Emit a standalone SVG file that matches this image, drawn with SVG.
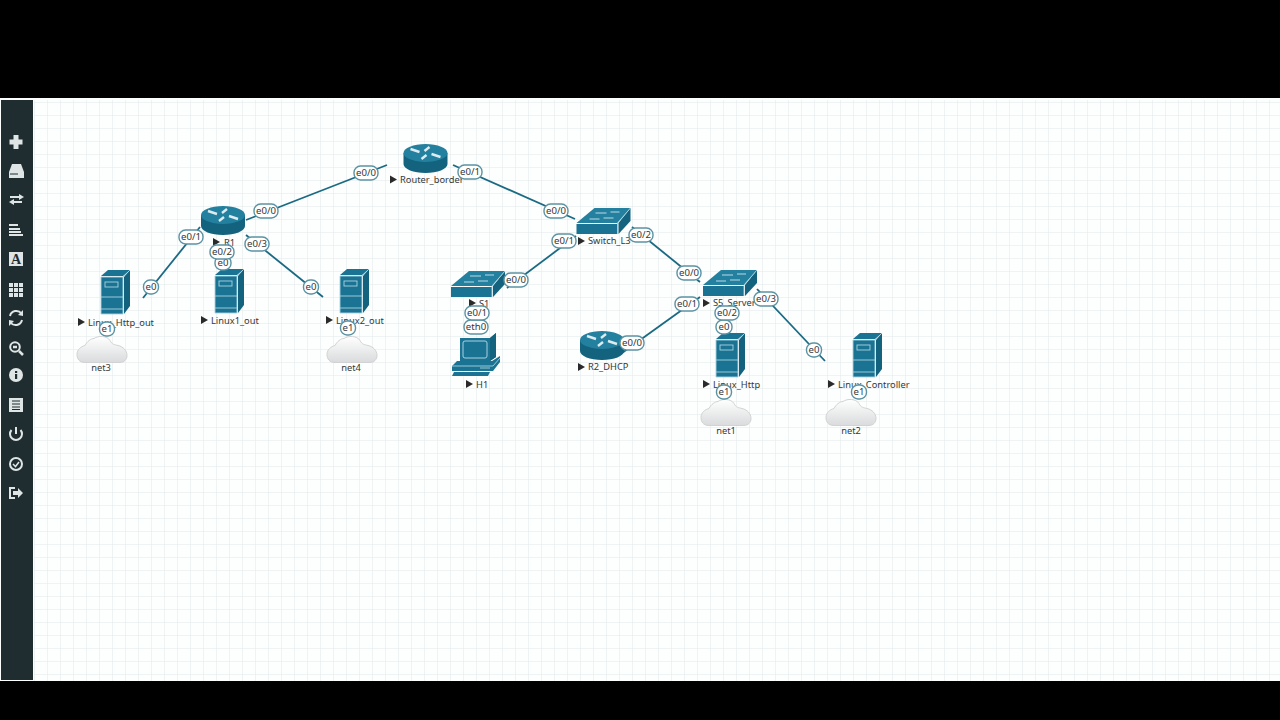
<svg xmlns="http://www.w3.org/2000/svg" width="1280" height="720" viewBox="0 0 1280 720">
<style>
text{font-family:"Noto Sans","DejaVu Sans",sans-serif;font-size:9.3px;fill:#33383a}
.c{text-anchor:middle}
.f{fill:#1b7394}
.d{fill:#13627e}
.e{stroke:#a9d3e0;stroke-width:.9;fill:none}
.link{stroke:#1a6a84;stroke-width:1.8;fill:none}
.pill rect{fill:#fff;stroke:#5b93a3;stroke-width:1.4}
.pill text{text-anchor:middle;font-size:9.6px}
.tool{fill:#dfe4e4}
.toolS{stroke:#dfe4e4;fill:none}
</style>
<defs>
<pattern id="grid" width="13" height="13" patternUnits="userSpaceOnUse" x="34" y="102">
<path d="M13 0H0V13" fill="none" stroke="#e2e7e8" stroke-width="1"/>
</pattern>
<linearGradient id="cl" x1="0" y1="0" x2="0" y2="1"><stop offset="0" stop-color="#ffffff"/><stop offset="1" stop-color="#d9dbdc"/></linearGradient>
<polygon id="tri" points="0,0 7,4 0,8" fill="#2a2a2a"/>
<g id="router">
<path class="d" d="M0 9V20C0 25 10 29 22 29S44 25 44 20V9Z"/>
<ellipse cx="22" cy="9" rx="22" ry="9" fill="#24809f"/>
<path d="M7 5L16 8M37 13L28 10M26 3L21 7M18 15L23 11" stroke="#dcecf1" stroke-width="2.4" fill="none"/>
</g>
<g id="switch">
<polygon fill="#24809f" points="0,16 18,1 54,1 41,16"/>
<polygon class="f" points="0,17 41,17 41,27 0,27"/>
<polygon class="d" points="42,16 54,1 54,14 42,27"/>
<path d="M41 16L54 1M41 16V27" class="e"/>
<path d="M19 6H30M34 5H43M13 12H23M27 11H37" stroke="#b9dbe6" stroke-width="1" fill="none"/>
</g>
<g id="server">
<polygon class="f" points="1,7 23,7 23,44 1,44"/>
<polygon class="d" points="24,7 30,0 30,36 24,44"/>
<polygon class="f" points="1,6 8,0 30,0 23,6"/>
<path d="M1 7H23V44H1ZM23 7L30 0" class="e"/>
<path d="M1 27H23M1 39H23" class="e"/>
<rect x="5" y="12" width="13" height="5" class="e"/>
</g>
<g id="pc">
<polygon class="f" points="8,5 38,5 44,0 44,24 38,28 8,28"/>
<polygon class="d" points="38,5 44,0 44,24 38,28"/>
<rect x="11" y="8" width="24" height="17" rx="2" fill="#1b7394" stroke="#a9d3e0"/>
<polygon class="f" points="5,28 40,28 48,23 48,29 41,38 0,38 0,33"/>
<path d="M0 33H41L48 25M28 35H38" stroke="#a9d3e0" stroke-width=".9" fill="none"/>
<polygon class="f" points="2,39 38,39 36,43 0,43"/>
</g>
<g id="cloud">
<path d="M8 27C2 27 0 23 0 19C0 14 4 11 8 10C10 6 14 3 17 3C21 0 30 0 33 5C35 9 37 9 41 10C46 11 50 15 50 20C50 24 47 27 43 27Z" fill="url(#cl)" stroke="#d0d2d3" stroke-width="1"/>
</g>
</defs>

<rect width="1280" height="720" fill="#000"/>
<rect x="0" y="98" width="1280" height="583" fill="#fdfefe"/>
<rect x="34" y="100" width="1246" height="581" fill="url(#grid)"/>

<g id="sidebar">
<rect x="1" y="100" width="32" height="580" fill="#1f2d31"/>
<path class="tool" d="M13.500 135H18.500V139.500H22.500V144.500H18.500V149H13.500V144.500H9.500V139.500H13.500Z"/>
<path class="tool" d="M12 164H21L24 172V178H9V172Z"/>
<path d="M10 174H18" stroke="#1f2d31"/>
<path class="toolS" stroke-width="1.800" d="M10 197H20M22 202H12"/>
<polygon class="tool" points="19,194 24,197 19,200"/>
<polygon class="tool" points="14,199 9,202 14,205"/>
<path class="toolS" stroke-width="2" d="M9 225H18M9 229H20M9 232H21M9 235H23"/>
<rect x="9" y="252" width="14" height="14" class="tool"/>
<text x="16" y="264" class="c" style="font-family:'Liberation Serif',serif;font-size:14px;font-weight:700;fill:#1f2d31">A</text>
<path class="tool" d="M9 283H13V287H9ZM14 283H18V287H14ZM19 283H23V287H19ZM9 288H13V292H9ZM14 288H18V292H14ZM19 288H23V292H19ZM9 293H13V297H9ZM14 293H18V297H14ZM19 293H23V297H19Z"/>
<path class="toolS" stroke-width="2" d="M10 316A6.500 6.500 0 0 1 21.500 313.500M22 320A6.500 6.500 0 0 1 10.500 322.500"/>
<polygon class="tool" points="23,310 23,316 18,315"/>
<polygon class="tool" points="9,326 9,320 14,321"/>
<circle cx="15" cy="347" r="4.800" class="toolS" stroke-width="2"/>
<path class="toolS" stroke-width="2.500" d="M19 351L23 355M13 347H17"/>
<circle cx="16" cy="375" r="7" class="tool"/>
<rect x="15" y="374" width="2.200" height="5" fill="#1f2d31"/><rect x="15" y="371" width="2.200" height="2" fill="#1f2d31"/>
<rect x="9" y="398" width="14" height="14" class="tool"/>
<path d="M12 401H20M12 404H20M12 407H20M12 409.500H20" stroke="#1f2d31" stroke-width="1"/>
<path class="toolS" stroke-width="2" d="M11.500 430A6 6 0 1 0 20.500 430M16 427V434"/>
<circle cx="16" cy="464" r="6" class="toolS" stroke-width="2"/>
<path class="toolS" stroke-width="1.500" d="M13 464L15.500 466.500L19 462"/>
<path class="toolS" stroke-width="2" d="M15 488H10V498H15"/>
<polygon class="tool" points="13,491 18,491 18,488 23,493 18,498 18,495 13,495"/>
</g>

<g id="connectors">
<path class="link" d="M246 220L387 165"/>
<path class="link" d="M200 227L143 298"/>
<path class="link" d="M223 250V265"/>
<path class="link" d="M246 235L323 297"/>
<path class="link" d="M453 165L575 219"/>
<path class="link" d="M507 288L576 236"/>
<path class="link" d="M632 227L700 282"/>
<path class="link" d="M700 297L622 353"/>
<path class="link" d="M725 312V332"/>
<path class="link" d="M757 289L825 361"/>
<path class="link" d="M476 312V333"/>
</g>

<g id="Router_border"><use href="#router" x="403.500" y="144"/><use href="#tri" x="390" y="175.500"/><text x="400" y="183">Router_border</text></g>
<g id="R1"><use href="#router" x="201" y="206"/><use href="#tri" x="213" y="238"/><text x="224" y="246">R1</text></g>
<g id="Switch_L3"><use href="#switch" x="576.500" y="207"/><use href="#tri" x="578" y="237"/><text x="588" y="244">Switch_L3</text></g>
<g id="S1"><use href="#switch" x="451" y="270"/><use href="#tri" x="469" y="299"/><text x="479" y="307">S1</text></g>
<g id="S5_Server"><use href="#switch" x="703" y="269"/><use href="#tri" x="703" y="299"/><text x="713" y="306">S5_Server</text></g>
<g id="R2_DHCP"><use href="#router" x="580" y="331"/><use href="#tri" x="578" y="363"/><text x="588" y="370">R2_DHCP</text></g>
<g id="Linux_Http_out"><use href="#server" x="100" y="270"/><use href="#tri" x="78" y="318"/><text x="88" y="325.500">Linux_Http_out</text></g>
<g id="Linux1_out"><use href="#server" x="214" y="269"/><use href="#tri" x="201" y="316"/><text x="211" y="324">Linux1_out</text></g>
<g id="Linux2_out"><use href="#server" x="339" y="269"/><use href="#tri" x="326" y="316"/><text x="336" y="324">Linux2_out</text></g>
<g id="H1"><use href="#pc" x="452" y="333"/><use href="#tri" x="466" y="380"/><text x="476" y="388">H1</text></g>
<g id="Linux_Http"><use href="#server" x="715" y="333"/><use href="#tri" x="703" y="380"/><text x="713" y="388">Linux_Http</text></g>
<g id="Linux_Controller"><use href="#server" x="852" y="333"/><use href="#tri" x="828" y="380"/><text x="838" y="388">Linux_Controller</text></g>
<g id="net3"><use href="#cloud" x="77" y="335.500"/><text x="101" y="371" class="c">net3</text></g>
<g id="net4"><use href="#cloud" x="327" y="335.500"/><text x="351" y="371" class="c">net4</text></g>
<g id="net1"><use href="#cloud" x="701" y="398.500"/><text x="726" y="434" class="c">net1</text></g>
<g id="net2"><use href="#cloud" x="826" y="398.500"/><text x="851" y="434" class="c">net2</text></g>

<g id="labels" class="pill">
<g transform="translate(266 211)"><rect x="-12" y="-7" width="24" height="14" rx="6.500"/><text y="3.300">e0/0</text></g>
<g transform="translate(366 173)"><rect x="-12" y="-7" width="24" height="14" rx="6.500"/><text y="3.300">e0/0</text></g>
<g transform="translate(470 172)"><rect x="-12" y="-7" width="24" height="14" rx="6.500"/><text y="3.300">e0/1</text></g>
<g transform="translate(556 211)"><rect x="-12" y="-7" width="24" height="14" rx="6.500"/><text y="3.300">e0/0</text></g>
<g transform="translate(564 241)"><rect x="-12" y="-7" width="24" height="14" rx="6.500"/><text y="3.300">e0/1</text></g>
<g transform="translate(641 235)"><rect x="-12" y="-7" width="24" height="14" rx="6.500"/><text y="3.300">e0/2</text></g>
<g transform="translate(689 273)"><rect x="-12" y="-7" width="24" height="14" rx="6.500"/><text y="3.300">e0/0</text></g>
<g transform="translate(766 299)"><rect x="-12" y="-7" width="24" height="14" rx="6.500"/><text y="3.300">e0/3</text></g>
<g transform="translate(687 304)"><rect x="-12" y="-7" width="24" height="14" rx="6.500"/><text y="3.300">e0/1</text></g>
<g transform="translate(724 327)"><rect x="-8" y="-7" width="16" height="14" rx="6.500"/><text y="3.300">e0</text></g>
<g transform="translate(727 313)"><rect x="-12" y="-7" width="24" height="14" rx="6.500"/><text y="3.300">e0/2</text></g>
<g transform="translate(632 343)"><rect x="-12" y="-7" width="24" height="14" rx="6.500"/><text y="3.300">e0/0</text></g>
<g transform="translate(814 350)"><rect x="-7.500" y="-7" width="15" height="14" rx="6.500"/><text y="3.300">e0</text></g>
<g transform="translate(724 392)"><rect x="-7.500" y="-7" width="15" height="14" rx="6.500"/><text y="3.300">e1</text></g>
<g transform="translate(859 392)"><rect x="-7.500" y="-7" width="15" height="14" rx="6.500"/><text y="3.300">e1</text></g>
<g transform="translate(191 237)"><rect x="-12" y="-7" width="24" height="14" rx="6.500"/><text y="3.300">e0/1</text></g>
<g transform="translate(223 263)"><rect x="-8" y="-7" width="16" height="14" rx="6.500"/><text y="3.300">e0</text></g>
<g transform="translate(222 252)"><rect x="-12" y="-7" width="24" height="14" rx="6.500"/><text y="3.300">e0/2</text></g>
<g transform="translate(257 244)"><rect x="-12" y="-7" width="24" height="14" rx="6.500"/><text y="3.300">e0/3</text></g>
<g transform="translate(151 287)"><rect x="-7.500" y="-7" width="15" height="14" rx="6.500"/><text y="3.300">e0</text></g>
<g transform="translate(311 287)"><rect x="-7.500" y="-7" width="15" height="14" rx="6.500"/><text y="3.300">e0</text></g>
<g transform="translate(107 329)"><rect x="-7.500" y="-7" width="15" height="14" rx="6.500"/><text y="3.300">e1</text></g>
<g transform="translate(348 328)"><rect x="-7.500" y="-7" width="15" height="14" rx="6.500"/><text y="3.300">e1</text></g>
<g transform="translate(516 280)"><rect x="-12" y="-7" width="24" height="14" rx="6.500"/><text y="3.300">e0/0</text></g>
<g transform="translate(476 327)"><rect x="-12" y="-7" width="24" height="14" rx="6.500"/><text y="3.300">eth0</text></g>
<g transform="translate(477 313)"><rect x="-12" y="-7" width="24" height="14" rx="6.500"/><text y="3.300">e0/1</text></g>
</g>
</svg>
